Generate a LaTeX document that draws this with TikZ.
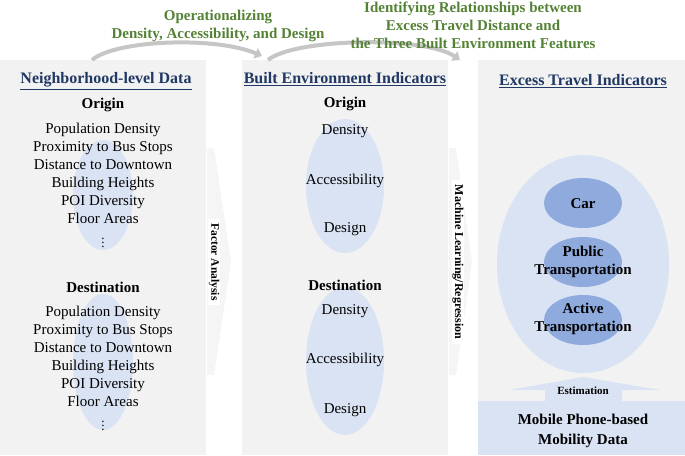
\documentclass[tikz,border=0pt]{standalone}
\usepackage{fontspec}
\setmainfont{Liberation Serif}
\usetikzlibrary{arrows.meta}
\definecolor{panel}{HTML}{F2F2F2}
\definecolor{lblue}{HTML}{DAE3F3}
\definecolor{mblue}{HTML}{8FAADC}
\definecolor{ttl}{HTML}{203864}
\definecolor{grn}{HTML}{548235}
\tikzset{
  body/.style={font=\fontsize{15}{17}\selectfont, inner sep=0pt, text height=10pt, text depth=3pt, anchor=center},
  hd/.style={font=\fontsize{15}{17}\selectfont\bfseries, inner sep=0pt},
  ttlnode/.style={font=\fontsize{16}{18}\selectfont\bfseries, text=ttl, inner sep=0pt},
  gtxt/.style={font=\fontsize{15}{18}\selectfont\bfseries, text=grn, align=center, inner sep=0pt},
  bell/.style={fill=lblue, draw=none},
  gapar/.style={fill=gray!8, draw=none},
  vlab/.style={fill=white, rotate=-90, inner xsep=5pt, inner ysep=1pt},
  curv/.style={draw=gray!45, line width=4pt, -{Triangle[length=7pt,width=11pt]}}
}
\begin{document}
\begin{tikzpicture}[x=1pt,y=-1pt]
\useasboundingbox (0,0) rectangle (685,455);
% panels
\fill[panel] (0,60) rectangle (206,455);
\fill[panel] (242,60) rectangle (448,455);
\fill[panel] (478,60) rectangle (685,455);
% gap arrows
\fill[gapar] (207,148) -- (214,148) -- (231,262) -- (214,375) -- (207,375) -- cycle;
\fill[gapar] (449,148) -- (456,148) -- (472,262) -- (456,375) -- (449,375) -- cycle;
\node[vlab, font=\fontsize{11.5}{13}\selectfont\bfseries] (fa) at (214,262) {Factor Analysis};
\node[vlab, font=\fontsize{12}{14}\selectfont\bfseries] (ml) at (458,262) {Machine Learning/Regression};
% curved arrows
\coordinate (c1s) at (92,60);
\coordinate (c1e) at (262,56);
\coordinate (c2s) at (268,60);
\coordinate (c2e) at (460,60);
\draw[curv] (c1s) .. controls (115,40) and (215,36) .. (c1e);
\draw[curv] (c2s) .. controls (295,38) and (425,36) .. (c2e);
\node[gtxt] (g1) at (218,26) {Operationalizing\\Density, Accessibility, and Design};
\node[gtxt] (g2) at (473,25) {Identifying Relationships between\\Excess Travel Distance and\\the Three Built Environment Features};
% panel 1
\node[ttlnode] (t1) at (106,81) {\underline{Neighborhood-level Data}};
\fill[bell] (103,195) ellipse (30 and 55);
\fill[bell] (103,362) ellipse (30 and 68);
\node[hd] (o1) at (103,105) {Origin};
\foreach \t [count=\i] in {Population Density,Proximity to Bus Stops,Distance to Downtown,Building Heights,POI Diversity,Floor Areas}
  \node[body] (p1o\i) at (103,112+18*\i) {\t};
\node[inner sep=0pt, font=\fontsize{13}{13}\selectfont] (p1o7) at (103,240) {\vdots};
\node[hd] (d1) at (103,287) {Destination};
\foreach \t [count=\i] in {Population Density,Proximity to Bus Stops,Distance to Downtown,Building Heights,POI Diversity,Floor Areas}
  \node[body] (p1d\i) at (103,295+18*\i) {\t};
\node[inner sep=0pt, font=\fontsize{13}{13}\selectfont] (p1d7) at (103,423) {\vdots};
% panel 2
\node[ttlnode] (t2) at (345,79) {\underline{Built Environment Indicators}};
\fill[bell] (345,186) ellipse (39 and 67);
\fill[bell] (345,361) ellipse (39 and 74);
\node[hd] (o2) at (345,104) {Origin};
\node[body] (b1) at (345,131) {Density};
\node[body] (b2) at (345,181) {Accessibility};
\node[body] (b3) at (345,229) {Design};
\node[hd] (d2) at (345,285) {Destination};
\node[body] (b4) at (345,311) {Density};
\node[body] (b5) at (345,360) {Accessibility};
\node[body] (b6) at (345,410) {Design};
% panel 3
\node[ttlnode] (t3) at (583,81) {\underline{Excess Travel Indicators}};
\fill[bell] (583,264) ellipse (86 and 109);
\fill[mblue] (583,203) ellipse (39 and 25);
\fill[mblue] (583,262) ellipse (39 and 25);
\fill[mblue] (583,320) ellipse (39 and 25);
\node[hd] (car) at (583,204) {Car};
\node[hd, align=center, font=\fontsize{15}{18}\selectfont\bfseries] (pub) at (583,262) {Public\\Transportation};
\node[hd, align=center, font=\fontsize{15}{18}\selectfont\bfseries] (act) at (583,319) {Active\\Transportation};
\fill[lblue] (509,390) -- (583,377) -- (660,390) -- (622,390) -- (622,401) -- (545,401) -- (545,390) -- cycle;
\node[font=\fontsize{11}{12}\selectfont\bfseries, inner sep=0pt] (est) at (583,391) {Estimation};
\fill[lblue] (478,401) rectangle (685,455);
\node[hd, align=center, font=\fontsize{15}{20}\selectfont\bfseries] (mob) at (583,431) {Mobile Phone-based\\Mobility Data};
\end{tikzpicture}
\end{document}
